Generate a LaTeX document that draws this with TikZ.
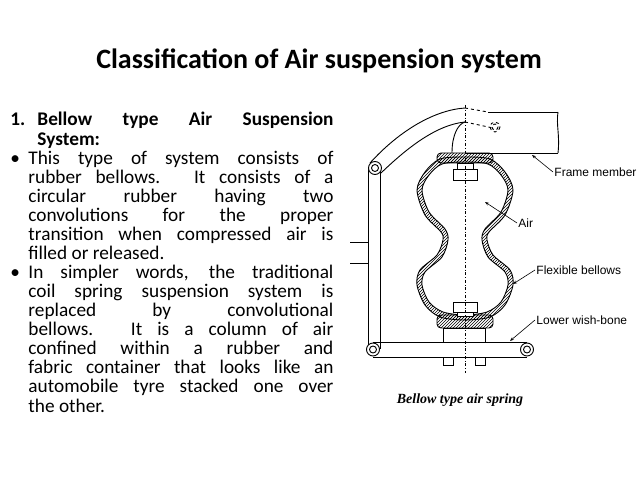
\documentclass[tikz,border=0pt]{standalone}
\usepackage{fontspec}
\setmainfont{Carlito}
\newfontfamily\lab{Liberation Sans}
\newfontfamily\capfont{Liberation Serif}
\usetikzlibrary{patterns,arrows.meta}
\begin{document}
\begin{tikzpicture}[x=1pt,y=-1pt,line width=0.9pt,
  hat/.style={draw,pattern=north east lines},
  leader/.style={line width=0.6pt,-{Stealth[length=4pt]}},
  lbl/.style={font=\lab\fontsize{12}{12}\selectfont,anchor=west,inner sep=1pt}]
\useasboundingbox (0,0) rectangle (638,478);
\node (title) at (319,61) {\bfseries\fontsize{28}{30}\selectfont Classification of Air suspension system};
\node[anchor=north west,inner sep=0pt] (body) at (10,112) {\parbox{323pt}{\fontsize{19.3}{19.07}\selectfont\setlength\parindent{0pt}\hbadness=10000\hfuzz=5pt%
\hangindent=27pt\hangafter=1\makebox[27pt][l]{\bfseries 1.}{\bfseries Bellow type Air Suspension\linebreak System:}\par
\hangindent=18pt\hangafter=1\makebox[18pt][l]{•}This type of system consists of\linebreak rubber bellows. It consists of a\linebreak circular rubber having two\linebreak convolutions for the proper\linebreak transition when compressed air is\linebreak filled or released.\par
\hangindent=18pt\hangafter=1\makebox[18pt][l]{•}In simpler words, the traditional\linebreak coil spring suspension system is\linebreak replaced by convolutional\linebreak bellows. It is a column of air\linebreak confined within a rubber and\linebreak fabric container that looks like an\linebreak automobile tyre stacked one over\linebreak the other.\par}};
% frame member
\draw (488,112) -- (558,112);
\draw (465,153) -- (558,153);
\draw (558,112) .. controls (556,125) and (560,135) .. (558,153);
% upper arm
\draw (370,163) .. controls (400,130) and (435,110) .. (465,108);
\draw[dashed] (465,108) -- (488,112);
\draw (381,173) .. controls (405,150) and (435,125) .. (465,122);
\draw[dashed] (465,122) -- (493,128);
\draw[dashed] (495,127) circle (5);
\draw[dashed] (495,127) circle (3);
\draw (452,153) .. controls (452,135) and (458,124) .. (465,122);
% vertical link
\draw (368,168) -- (368,349);
\draw (380,168) -- (380,349);
\draw (350,242) -- (368,242) (350,263) -- (368,263);
\draw[fill=white] (375,168) circle (6.5);
\draw (375,168) circle (3.5);
% bellows
\path[hat,even odd rule]
 plot[smooth cycle] coordinates {(465,157)(490,159)(505,172)(513,190)(505,215)(489,232)(487,240)(493,255)(510,270)(513,285)(505,305)(490,317)(465,320)(440,317)(425,305)(417,285)(420,270)(437,255)(443,240)(441,232)(425,215)(417,190)(425,172)(440,159)}
 plot[smooth cycle] coordinates {(465,162)(488,164)(501,175)(508,190)(501,212)(485,229)(482,240)(488,257)(505,272)(508,285)(501,302)(487,312)(465,315)(443,312)(429,302)(422,285)(425,272)(442,257)(448,240)(445,229)(429,212)(422,190)(429,175)(442,164)};
% plates
\draw[hat,rounded corners=4pt] (437,153) rectangle (493,163);
\draw[hat,rounded corners=4pt] (437,315) rectangle (493,328);
\draw[fill=white] (457,163) rectangle (473,169);
\draw[fill=white] (453,169) rectangle (477,180);
\draw[fill=white] (453,302) rectangle (477,312);
\draw[fill=white] (457,312) rectangle (473,316);
\draw[fill=white] (443,328) rectangle (485,342);
% lower wishbone
\draw (373,342) -- (527,342) (373,357) -- (527,357);
\draw[fill=white] (373,349.5) circle (6.5);
\draw (373,349.5) circle (3.5);
\draw[fill=white] (527,349.5) circle (6.5);
\draw (527,349.5) circle (3.5);
\draw (443,357) rectangle (453,365) (475,357) rectangle (485,365);
% centerline
\draw[line width=0.6pt,dash dot] (465,105) -- (465,373);
% labels
\node[lbl] (fm) at (553,172) {Frame member};
\node[lbl] (air) at (517,223) {Air};
\node[lbl] (fb) at (535,270) {Flexible bellows};
\node[lbl] (lw) at (535,320) {Lower wish-bone};
\coordinate (fmp) at (532,155);
\coordinate (airp) at (485,202);
\coordinate (fbp) at (513,284);
\coordinate (lwp) at (510,341);
\draw[leader] (fm.west) -- (fmp);
\draw[leader] (air.west) -- (airp);
\draw[leader] (fb.west) -- (fbp);
\draw[leader] (lw.west) -- (lwp);
\node (caption) at (460,400) {\capfont\bfseries\itshape\fontsize{14}{16}\selectfont Bellow type air spring};
\end{tikzpicture}
\end{document}
